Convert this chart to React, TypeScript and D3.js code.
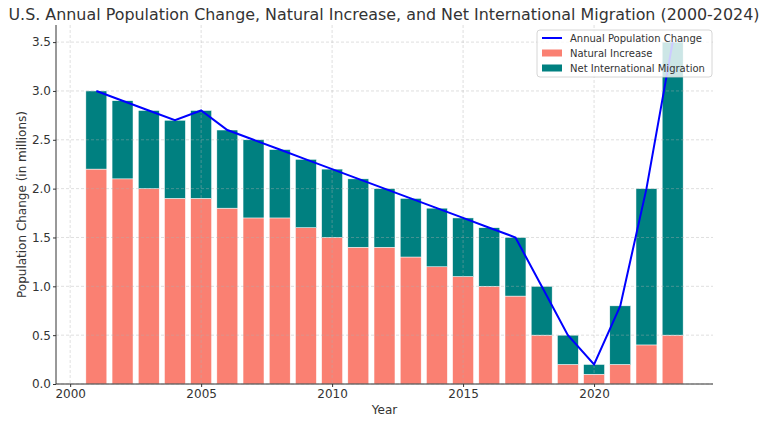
import { useEffect, useRef } from "react";
import * as d3 from "d3";

const years = [
  2001, 2002, 2003, 2004, 2005, 2006, 2007, 2008, 2009, 2010, 2011, 2012,
  2013, 2014, 2015, 2016, 2017, 2018, 2019, 2020, 2021, 2022, 2023,
];
const naturalIncrease = [
  2.2, 2.1, 2.0, 1.9, 1.9, 1.8, 1.7, 1.7, 1.6, 1.5, 1.4, 1.4, 1.3, 1.2, 1.1,
  1.0, 0.9, 0.5, 0.2, 0.1, 0.2, 0.4, 0.5,
];
const netMigration = [
  0.8, 0.8, 0.8, 0.8, 0.9, 0.8, 0.8, 0.7, 0.7, 0.7, 0.7, 0.6, 0.6, 0.6, 0.6,
  0.6, 0.6, 0.5, 0.3, 0.1, 0.6, 1.6, 3.0,
];
const annualChange = [
  3.0, 2.9, 2.8, 2.7, 2.8, 2.6, 2.5, 2.4, 2.3, 2.2, 2.1, 2.0, 1.9, 1.8, 1.7,
  1.6, 1.5, 1.0, 0.5, 0.2, 0.8, 2.0, 3.5,
];
const xTicks = [2000, 2005, 2010, 2015, 2020];
const yTicks = [0, 0.5, 1.0, 1.5, 2.0, 2.5, 3.0, 3.5];

export default function App() {
  const svgRef = useRef<SVGSVGElement>(null);

  useEffect(() => {
    if (!svgRef.current) return;
    const svg = d3.select(svgRef.current);
    svg.selectAll("*").remove();

    const W = 768;
    const H = 423;
    const margin = { top: 25, right: 55, bottom: 39, left: 56 };
    const width = W - margin.left - margin.right;
    const height = H - margin.top - margin.bottom;
    const font = "DejaVu Sans, sans-serif";
    const textColor = "#333333";

    const g = svg
      .append("g")
      .attr("transform", `translate(${margin.left},${margin.top})`);

    // matplotlib-like 5% margins around the bars
    const lo = years[0] - 0.4;
    const hi = years[years.length - 1] + 0.4;
    const pad = (hi - lo) * 0.05;
    const x = d3.scaleLinear().domain([lo - pad, hi + pad]).range([0, width]);
    const y = d3.scaleLinear().domain([0, 3.675]).range([height, 0]);
    const bw = x(0.8) - x(0);

    // bars
    g.selectAll(".nat")
      .data(years)
      .enter()
      .append("rect")
      .attr("x", (d) => x(d - 0.4))
      .attr("width", bw)
      .attr("y", (_, i) => y(naturalIncrease[i]))
      .attr("height", (_, i) => height - y(naturalIncrease[i]))
      .attr("fill", "#fa8072")
      .attr("stroke", "#ffffff")
      .attr("stroke-width", 0.5);

    g.selectAll(".mig")
      .data(years)
      .enter()
      .append("rect")
      .attr("x", (d) => x(d - 0.4))
      .attr("width", bw)
      .attr("y", (_, i) => y(naturalIncrease[i] + netMigration[i]))
      .attr("height", (_, i) => y(naturalIncrease[i]) - y(naturalIncrease[i] + netMigration[i]))
      .attr("fill", "#008080")
      .attr("stroke", "#ffffff")
      .attr("stroke-width", 0.5);

    // grid (above bars, like matplotlib)
    g.selectAll(".gx")
      .data(xTicks)
      .enter()
      .append("line")
      .attr("x1", (d) => x(d))
      .attr("x2", (d) => x(d))
      .attr("y1", 0)
      .attr("y2", height)
      .attr("stroke", "#b0b0b0")
      .attr("stroke-opacity", 0.5)
      .attr("stroke-width", 0.8)
      .attr("stroke-dasharray", "3,2");
    g.selectAll(".gy")
      .data(yTicks)
      .enter()
      .append("line")
      .attr("x1", 0)
      .attr("x2", width)
      .attr("y1", (d) => y(d))
      .attr("y2", (d) => y(d))
      .attr("stroke", "#b0b0b0")
      .attr("stroke-opacity", 0.5)
      .attr("stroke-width", 0.8)
      .attr("stroke-dasharray", "3,2");

    // line
    const line = d3
      .line<number>()
      .x((d) => x(d))
      .y((_, i) => y(annualChange[i]));
    g.append("path")
      .datum(years)
      .attr("d", line)
      .attr("fill", "none")
      .attr("stroke", "#0000ff")
      .attr("stroke-width", 2);

    // axes
    const xAxis = g
      .append("g")
      .attr("transform", `translate(0,${height})`)
      .call(d3.axisBottom(x).tickValues(xTicks).tickFormat(d3.format("d")).tickSize(3).tickPadding(2));
    const yAxis = g
      .append("g")
      .call(d3.axisLeft(y).tickValues(yTicks).tickFormat(d3.format(".1f")).tickSize(3).tickPadding(2));
    [xAxis, yAxis].forEach((a) => {
      a.select(".domain").attr("stroke", "#333333").attr("stroke-width", 1);
      a.selectAll(".tick line").attr("stroke", "#333333");
      a.selectAll("text")
        .attr("fill", textColor)
        .style("font-family", font)
        .style("font-size", "12px");
    });
    // extend domains to full plot area
    xAxis.select(".domain").attr("d", `M0,0H${width}`);
    yAxis.select(".domain").attr("d", `M0,${height}V0`);

    // labels
    g.append("text")
      .attr("x", width / 2)
      .attr("y", height + 30)
      .attr("text-anchor", "middle")
      .attr("fill", textColor)
      .style("font-family", font)
      .style("font-size", "12px")
      .text("Year");
    g.append("text")
      .attr("transform", `translate(${-30},${height / 2}) rotate(-90)`)
      .attr("text-anchor", "middle")
      .attr("fill", textColor)
      .style("font-family", font)
      .style("font-size", "12px")
      .text("Population Change (in millions)");

    svg
      .append("text")
      .attr("x", W / 2)
      .attr("y", 20)
      .attr("text-anchor", "middle")
      .attr("fill", textColor)
      .style("font-family", font)
      .style("font-size", "15.9px")
      .text(
        "U.S. Annual Population Change, Natural Increase, and Net International Migration (2000-2024)"
      );

    // legend
    const lg = svg.append("g").attr("transform", `translate(537,30)`);
    lg.append("rect")
      .attr("width", 175)
      .attr("height", 47)
      .attr("rx", 3)
      .attr("fill", "#ffffff")
      .attr("fill-opacity", 0.8)
      .attr("stroke", "#cccccc")
      .attr("stroke-width", 0.8);
    const items = [
      { label: "Annual Population Change", type: "line", color: "#0000ff" },
      { label: "Natural Increase", type: "rect", color: "#fa8072" },
      { label: "Net International Migration", type: "rect", color: "#008080" },
    ];
    items.forEach((it, i) => {
      const cy = 8 + i * 15;
      if (it.type === "line") {
        lg.append("line")
          .attr("x1", 5)
          .attr("x2", 25)
          .attr("y1", cy)
          .attr("y2", cy)
          .attr("stroke", it.color)
          .attr("stroke-width", 2);
      } else {
        lg.append("rect")
          .attr("x", 5)
          .attr("y", cy - 3.5)
          .attr("width", 20)
          .attr("height", 7)
          .attr("fill", it.color);
      }
      lg.append("text")
        .attr("x", 33)
        .attr("y", cy + 4)
        .attr("fill", textColor)
        .style("font-family", font)
        .style("font-size", "10px")
        .text(it.label);
    });
  }, []);

  return (
    <svg
      ref={svgRef}
      width={768}
      height={423}
      style={{ position: "absolute", left: 0, top: 0, background: "#ffffff" }}
    />
  );
}
